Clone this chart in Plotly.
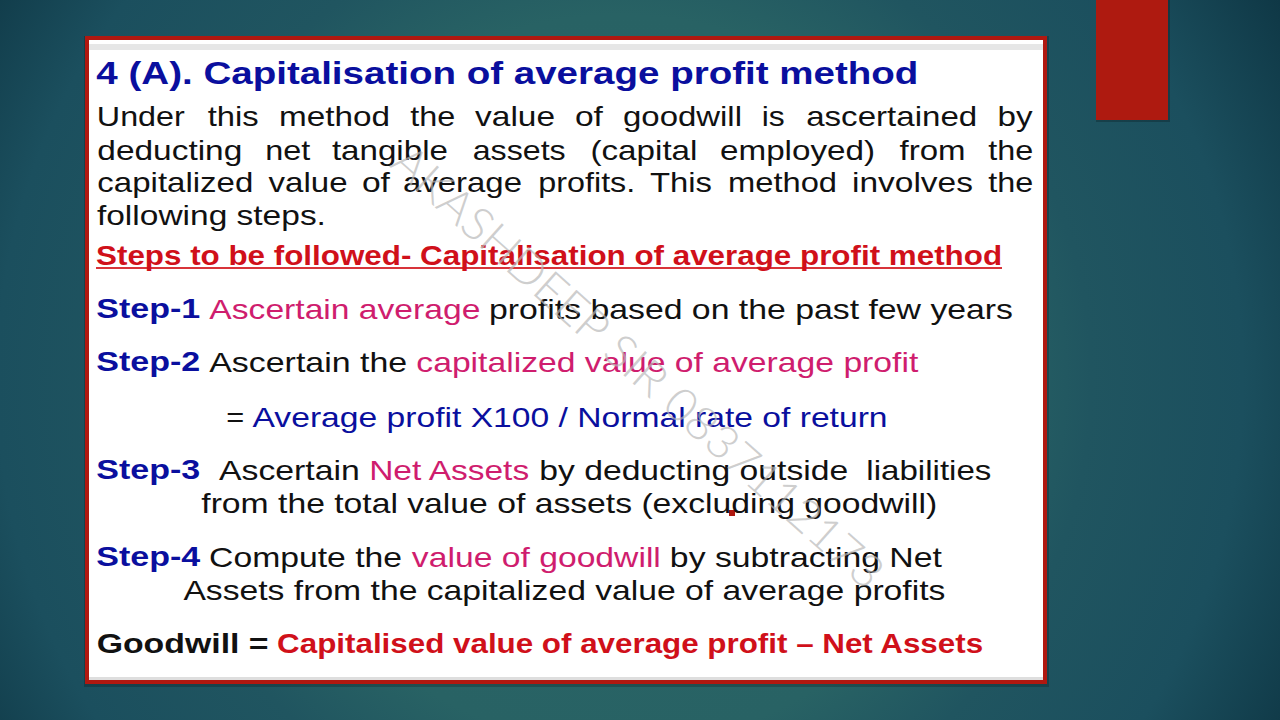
import plotly.graph_objects as go

FONT = "Liberation Sans"
BLACK = "#111111"
BLUE = "#0a0f9e"
PINK = "#cf1d6e"
RED = "#d0101a"

# one entry per word or run: text, left edge, right edge, row, colour, bold
words = [
    ("4 (A). Capitalisation of average profit method", 96, 918, 73, BLUE, True),
    ("Under", 97, 185, 116, BLACK, False), ("this", 207, 258, 116, BLACK, False),
    ("method", 279, 390, 116, BLACK, False), ("the", 410, 455, 116, BLACK, False),
    ("value", 475, 555, 116, BLACK, False), ("of", 575, 603, 116, BLACK, False),
    ("goodwill", 623, 742, 116, BLACK, False), ("is", 762, 785, 116, BLACK, False),
    ("ascertained", 806, 977, 116, BLACK, False), ("by", 998, 1033, 116, BLACK, False),
    ("deducting", 97, 242, 150, BLACK, False), ("net", 265, 310, 150, BLACK, False),
    ("tangible", 332, 448, 150, BLACK, False), ("assets", 472, 565, 150, BLACK, False),
    ("(capital", 590, 697, 150, BLACK, False), ("employed)", 720, 875, 150, BLACK, False),
    ("from", 899, 965, 150, BLACK, False), ("the", 988, 1033, 150, BLACK, False),
    ("capitalized", 97, 253, 182, BLACK, False), ("value", 268, 347, 182, BLACK, False),
    ("of", 362, 390, 182, BLACK, False), ("average", 403, 522, 182, BLACK, False),
    ("profits.", 538, 635, 182, BLACK, False), ("This", 650, 712, 182, BLACK, False),
    ("method", 728, 837, 182, BLACK, False), ("involves", 852, 973, 182, BLACK, False),
    ("the", 988, 1033, 182, BLACK, False),
    ("following steps.", 97, 326, 215, BLACK, False),
    ("Steps to be followed- Capitalisation of average profit method", 96, 1002, 256, RED, True),
    ("Step-1", 96, 200, 309, BLUE, True), ("Ascertain average", 209, 480, 309, PINK, False),
    ("profits based on the past few years", 489, 1013, 309, BLACK, False),
    ("Step-2", 96, 200, 362, BLUE, True), ("Ascertain the", 209, 407, 362, BLACK, False),
    ("capitalized value of average profit", 416, 918, 362, PINK, False),
    ("=", 226, 244, 417, BLACK, False), ("Average profit X100 / Normal rate of return", 252, 887, 417, BLUE, False),
    ("Step-3", 96, 200, 470, BLUE, True), ("Ascertain", 219, 360, 470, BLACK, False),
    ("Net Assets", 369, 529, 470, PINK, False), ("by deducting outside", 539, 848, 470, BLACK, False),
    ("liabilities", 866, 991, 470, BLACK, False),
    ("from the total value of assets (excluding goodwill)", 201, 937, 503, BLACK, False),
    ("Step-4", 96, 200, 557, BLUE, True), ("Compute the", 209, 402, 557, BLACK, False),
    ("value of goodwill", 412, 661, 557, PINK, False), ("by subtracting Net", 670, 942, 557, BLACK, False),
    ("Assets from the capitalized value of average profits", 183, 945, 590, BLACK, False),
    ("Goodwill =", 96, 268, 644, BLACK, True),
    ("Capitalised value of average profit – Net Assets", 277, 983, 644, RED, True),
]

watermark = "AKASHDEEP SIR 0837112173"

background = (
    "data:image/svg+xml;utf8,"
    "<svg xmlns='http://www.w3.org/2000/svg' width='1280' height='720'>"
    "<defs><radialGradient id='g' gradientUnits='userSpaceOnUse' cx='620' cy='380' r='760'>"
    "<stop offset='0' stop-color='%232a6668'/><stop offset='0.48' stop-color='%23286264'/>"
    "<stop offset='0.62' stop-color='%23205560'/><stop offset='0.82' stop-color='%231b4f5e'/>"
    "<stop offset='1' stop-color='%230f3846'/></radialGradient></defs>"
    "<rect width='1280' height='720' fill='url(%23g)'/></svg>"
)

fig = go.Figure()

# invisible trace so the axes exist
fig.add_trace(go.Scatter(x=[0, 1280], y=[0, 720], mode="markers", marker_opacity=0, hoverinfo="skip"))

shapes = [
    # shadow + red tab
    dict(type="rect", x0=1096, x1=1170, y0=0, y1=122, fillcolor="rgba(0,0,0,0.22)", line_width=0),
    dict(type="rect", x0=1096, x1=1168, y0=0, y1=120, fillcolor="#ae1a10", line_width=0),
    # slide frame
    dict(type="rect", x0=84, x1=1049, y0=36, y1=687, fillcolor="rgba(0,0,0,0.2)", line_width=0),
    dict(type="rect", x0=85, x1=1047, y0=36, y1=684, fillcolor="#b01810", line_width=0),
    dict(type="rect", x0=89, x1=1043, y0=40, y1=680, fillcolor="#ffffff", line_width=0),
    dict(type="rect", x0=89, x1=1043, y0=44, y1=50, fillcolor="#e6e6e6", line_width=0),
    dict(type="rect", x0=89, x1=1043, y0=677, y1=680, fillcolor="#dedede", line_width=0),
    # underline of the red heading
    dict(type="rect", x0=96, x1=1002, y0=267, y1=269, fillcolor="#d8343a", line_width=0),
    # pointer dot
    dict(type="rect", x0=729, x1=735, y0=510, y1=516, fillcolor="#b01810", line_width=0),
]

annotations = []
for text, left, right, row, color, bold in words:
    size = 32 if text.startswith("4 (A)") else 27 if bold else 28.5
    annotations.append(dict(
        x=(left + right) / 2, y=row, text=text,
        showarrow=False, xanchor="center", yanchor="middle",
        font=dict(family=FONT, size=size, color=color, weight=700 if bold else 400),
    ))

annotations.append(dict(
    x=639, y=365, text=watermark, showarrow=False, textangle=41.7,
    xanchor="center", yanchor="middle",
    font=dict(family="Lato", size=46, weight=300, color="rgba(185,185,185,0.7)"),
))

fig.update_layout(
    width=1280, height=720,
    margin=dict(l=0, r=0, t=0, b=0),
    showlegend=False,
    paper_bgcolor="#1a4f5c",
    plot_bgcolor="rgba(0,0,0,0)",
    xaxis=dict(range=[0, 1280], visible=False, fixedrange=True),
    yaxis=dict(range=[720, 0], visible=False, fixedrange=True),
    images=[dict(source=background, xref="paper", yref="paper", x=0, y=1, sizex=1, sizey=1,
                 xanchor="left", yanchor="top", sizing="stretch", layer="below")],
    shapes=shapes,
    annotations=annotations,
)

# the slide text is stretched sideways in the original, so force each run to its width
widths = [right - left for _, left, right, *_ in words] + [640]
post_script = """
document.body.style.margin = '0';
var widths = %s;
document.querySelectorAll('.annotation-text').forEach(function (el, i) {
    el.setAttribute('textLength', widths[i]);
    el.setAttribute('lengthAdjust', 'spacingAndGlyphs');
});
""" % widths

fig.write_html("out.html", config={"displayModeBar": False}, post_script=post_script)
